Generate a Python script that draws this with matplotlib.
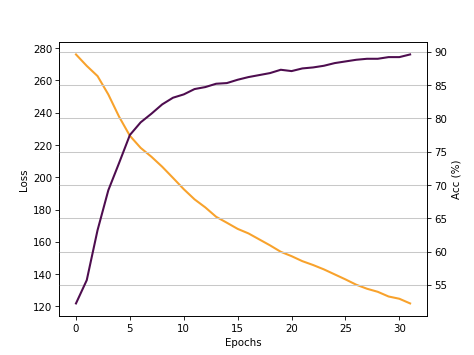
import matplotlib
matplotlib.use('Agg')
import matplotlib.pyplot as plt

# Training history
epochs = list(range(32))
loss = [276.1, 269.0, 262.7, 251.3, 237.5, 225.7, 218.2, 212.7, 206.5, 199.6,
        192.6, 186.3, 181.3, 175.5, 171.8, 168.0, 165.2, 161.5, 157.8, 153.8,
        151.1, 148.0, 145.6, 142.9, 139.8, 136.7, 133.4, 130.9, 129.0, 126.1,
        124.7, 121.8]
acc = [52.2, 55.7, 63.2, 69.2, 73.3, 77.5, 79.4, 80.7, 82.1, 83.1,
       83.6, 84.4, 84.7, 85.2, 85.3, 85.8, 86.2, 86.5, 86.8, 87.3,
       87.1, 87.5, 87.65, 87.9, 88.3, 88.55, 88.8, 88.95, 88.95, 89.2,
       89.2, 89.6]

LOSS_COLOUR = '#f8a22c'
ACC_COLOUR = '#4e0d4f'

fig, ax_loss = plt.subplots(figsize=(6.4, 4.8), dpi=74.1)
ax_acc = ax_loss.twinx()

ax_loss.plot(epochs, loss, color=LOSS_COLOUR, linewidth=2)
ax_loss.set_xlabel('Epochs')
ax_loss.set_ylabel('Loss')
ax_loss.set_yticks([120, 140, 160, 180, 200, 220, 240, 260, 280])

ax_acc.plot(epochs, acc, color=ACC_COLOUR, linewidth=2)
ax_acc.set_ylabel('Acc (%)')
ax_acc.set_yticks([55, 60, 65, 70, 75, 80, 85, 90])
ax_acc.grid(True, axis='y', color='#c8c8c8', linewidth=1)

fig.savefig('out.png', dpi=74.1)
